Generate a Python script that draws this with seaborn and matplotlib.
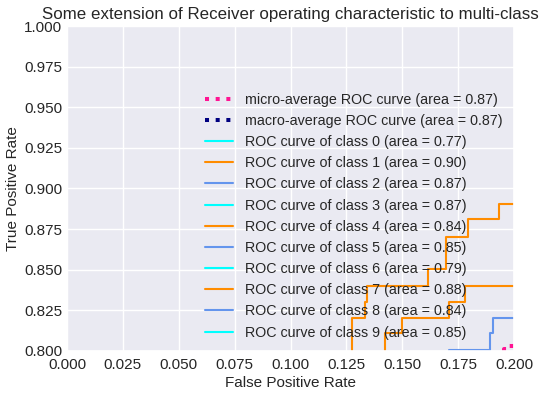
import matplotlib
matplotlib.use("Agg")
import matplotlib.pyplot as plt
import seaborn as sns
import pandas as pd

sns.set_theme(style="darkgrid")
plt.rcParams["font.family"] = ["Liberation Sans", "DejaVu Sans"]

# ---- data ----
micro_fpr = [0.185, 0.1935, 0.1935, 0.1955, 0.1955, 0.1975, 0.1975, 0.2]
micro_tpr = [0.795, 0.795, 0.800, 0.800, 0.8015, 0.8015, 0.803, 0.803]
micro_auc = 0.87

macro_fpr = [0.0, 0.2]
macro_tpr = [0.0, 0.79]
macro_auc = 0.87

class_aucs = [0.77, 0.90, 0.87, 0.87, 0.84, 0.85, 0.79, 0.88, 0.84, 0.85]

class_fpr = {
    0: [0.0, 0.2],
    1: [0.1275, 0.1275, 0.1333, 0.1333, 0.1342, 0.1342, 0.1613, 0.1613,
        0.1695, 0.1695, 0.1796, 0.1796, 0.1933, 0.1933, 0.2],
    2: [0.0, 0.2],
    3: [0.0, 0.2],
    4: [0.0, 0.2],
    5: [0.0, 0.2],
    6: [0.0, 0.2],
    7: [0.1422, 0.1422, 0.150, 0.150, 0.171, 0.171, 0.1781, 0.1781, 0.2],
    8: [0.171, 0.171, 0.1893, 0.1893, 0.1906, 0.1906, 0.2],
    9: [0.0, 0.2],
}
class_tpr = {
    0: [0.0, 0.74],
    1: [0.79, 0.8205, 0.8205, 0.8302, 0.8302, 0.840, 0.840, 0.8505,
        0.8505, 0.8703, 0.8703, 0.881, 0.881, 0.8905, 0.8905],
    2: [0.0, 0.78],
    3: [0.0, 0.78],
    4: [0.0, 0.76],
    5: [0.0, 0.77],
    6: [0.0, 0.72],
    7: [0.79, 0.8109, 0.8109, 0.8205, 0.8205, 0.8303, 0.8303, 0.840, 0.840],
    8: [0.79, 0.8006, 0.8006, 0.811, 0.811, 0.8205, 0.8205],
    9: [0.0, 0.77],
}
class_colors = ["aqua", "darkorange", "cornflowerblue"]

# ---- figure ----
fig, ax = plt.subplots(figsize=(5.43, 3.97), dpi=100)
fig.subplots_adjust(left=0.1234, right=0.9466, bottom=0.1159, top=0.9345)

sns.lineplot(x=micro_fpr, y=micro_tpr, ax=ax, color="deeppink", linestyle=":",
             linewidth=2.9, sort=False, estimator=None,
             label=f"micro-average ROC curve (area = {micro_auc:0.2f})")
sns.lineplot(x=macro_fpr, y=macro_tpr, ax=ax, color="navy", linestyle=":",
             linewidth=2.9, sort=False, estimator=None,
             label=f"macro-average ROC curve (area = {macro_auc:0.2f})")
for i in range(10):
    sns.lineplot(x=class_fpr[i], y=class_tpr[i], ax=ax,
                 color=class_colors[i % 3], linewidth=1.5, sort=False,
                 estimator=None,
                 label=f"ROC curve of class {i} (area = {class_aucs[i]:0.2f})")

ax.set_xlim(0.0, 0.2)
ax.set_ylim(0.8, 1.0)
ax.set_xticks([0.0, 0.025, 0.05, 0.075, 0.1, 0.125, 0.15, 0.175, 0.2])
ax.set_yticks([0.8, 0.825, 0.85, 0.875, 0.9, 0.925, 0.95, 0.975, 1.0])
ax.xaxis.set_major_formatter(matplotlib.ticker.FormatStrFormatter("%.3f"))
ax.yaxis.set_major_formatter(matplotlib.ticker.FormatStrFormatter("%.3f"))
ax.tick_params(labelsize=11, length=0, pad=5, labelcolor="#262626")
ax.tick_params(axis="y", pad=3.5)
ax.set_xlabel("False Positive Rate", fontsize=11, labelpad=3, color="#262626")
ax.set_ylabel("True Positive Rate", fontsize=11, labelpad=3, color="#262626")
ax.set_title("Some extension of Receiver operating characteristic to multi-class",
             fontsize=12.2, color="#262626", pad=5)
ax.legend(loc="lower right", fontsize=10.3, frameon=False,
          borderaxespad=0.4, labelcolor="#262626")

fig.savefig("out.png", dpi=100)
